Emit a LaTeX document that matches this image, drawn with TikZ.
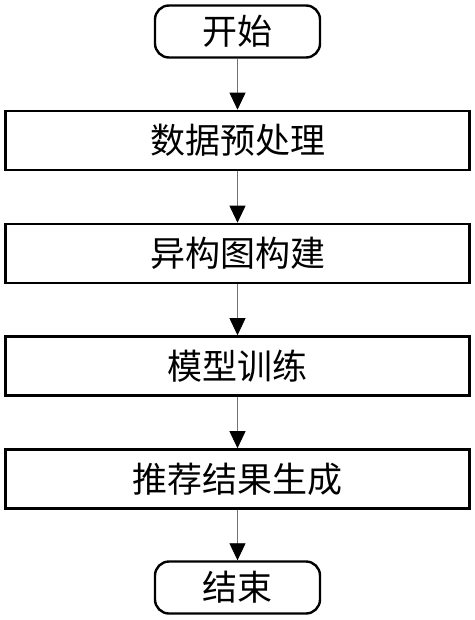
\documentclass[tikz,border=0pt]{standalone}
\usepackage{fontspec}
\newfontfamily\cjk{Noto Sans CJK SC}
\usetikzlibrary{arrows.meta}
\tikzset{
  term/.style={draw=black, line width=2.4pt, rounded corners=14pt, minimum width=165pt, minimum height=52pt, inner sep=0pt, font=\cjk\fontsize{35}{40}\selectfont},
  stepbox/.style={draw=black, line width=2.6pt, minimum width=464pt, minimum height=59pt, inner sep=0pt, font=\cjk\fontsize{35}{40}\selectfont},
  flow/.style={draw=black!55, line width=0.8pt, -{Triangle[length=17pt,width=16pt,fill=black,color=black]}}
}
\begin{document}
\begin{tikzpicture}[x=1pt,y=1pt]
\useasboundingbox (0,0) rectangle (474,-620);
\node[term] (s) at (237.5,-31.5) {开始};
\node[stepbox] (b1) at (237.5,-140.5) {数据预处理};
\node[stepbox] (b2) at (237.5,-253.5) {异构图构建};
\node[stepbox] (b3) at (237.5,-366) {模型训练};
\node[stepbox] (b4) at (237.5,-479) {推荐结果生成};
\node[term] (e) at (237.5,-587.5) {结束};
\draw[flow] (s) -- (b1);
\draw[flow] (b1) -- (b2);
\draw[flow] (b2) -- (b3);
\draw[flow] (b3) -- (b4);
\draw[flow] (b4) -- (e);
\end{tikzpicture}
\end{document}
